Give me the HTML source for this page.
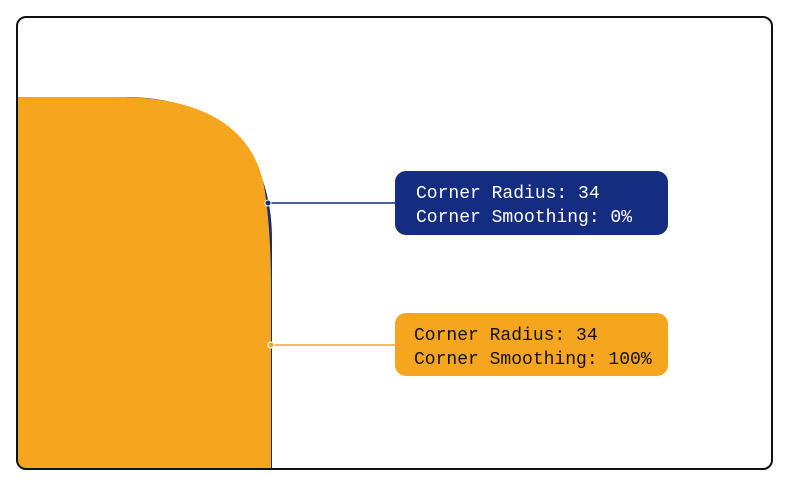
<!DOCTYPE html>
<html><head><style>
html,body{margin:0;padding:0;background:#fff;width:800px;height:487px;overflow:hidden}
.t{font-family:"Liberation Mono","DejaVu Sans Mono",monospace;font-size:18px}
</style></head><body>
<svg width="800" height="487" xmlns="http://www.w3.org/2000/svg">
<defs><clipPath id="c"><rect x="17" y="17" width="755" height="452" rx="9"/></clipPath></defs>
<g clip-path="url(#c)">
<path d="M10 97 L125 97 C215 97 272 145 272 240 L272 480 L10 480 Z" fill="#142d80"/>
<path d="M10 97 L122 97 C207 98 256 130 265 192 C269 220 271 250 271 290 L271 480 L10 480 Z" fill="#f6a51e"/>
</g>
<rect x="17" y="17" width="755" height="452" rx="9" fill="none" stroke="#111" stroke-width="2"/>
<line x1="268" y1="203" x2="396" y2="203" stroke="#142d80" stroke-width="1.5"/>
<circle cx="268" cy="203" r="3" fill="#142d80" stroke="#fff" stroke-width="1"/>
<line x1="271" y1="345" x2="396" y2="345" stroke="#f6a51e" stroke-width="1.5"/>
<circle cx="271" cy="345" r="3" fill="#f6a51e" stroke="#fff" stroke-width="1.2"/>
<rect x="395" y="171" width="273" height="64" rx="11" fill="#142d80"/>
<rect x="395" y="313" width="273" height="63" rx="11" fill="#f6a51e"/>
<text class="t" x="416" y="198" fill="#fff">Corner Radius: 34</text>
<text class="t" x="416" y="222" fill="#fff">Corner Smoothing: 0%</text>
<text class="t" x="414" y="340" fill="#111">Corner Radius: 34</text>
<text class="t" x="414" y="364" fill="#111">Corner Smoothing: 100%</text>
</svg>
</body></html>
